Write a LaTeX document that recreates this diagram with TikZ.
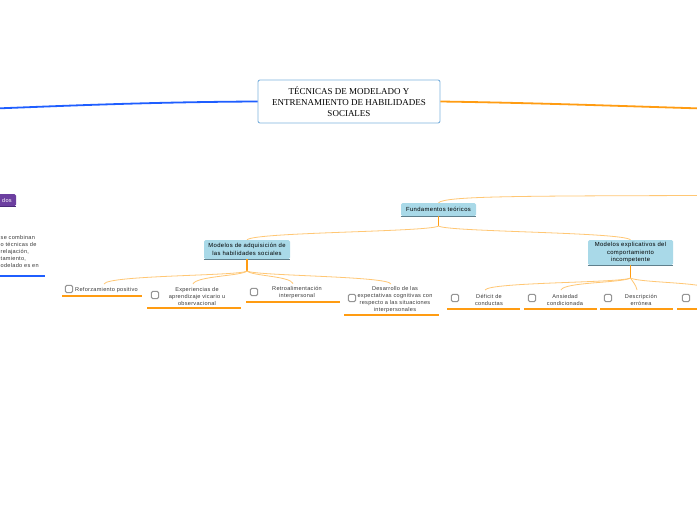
\documentclass[tikz,border=0pt]{standalone}
\usepackage{fontspec}
\setmainfont{Liberation Serif}
\newfontfamily\leafsans[LetterSpace=5]{Liberation Sans}
\newfontfamily\topicsans[LetterSpace=6]{Liberation Sans}
\definecolor{titleblue}{HTML}{7FB3DE}
\definecolor{branchblue}{HTML}{1F5EFF}
\definecolor{branchorange}{HTML}{FF9C12}
\definecolor{lightorange}{HTML}{FFC774}
\definecolor{topicfill}{HTML}{A9D9E8}
\definecolor{topicline}{HTML}{5F7F8C}
\definecolor{leaftext}{HTML}{3A3A3A}
\definecolor{boxgray}{HTML}{959595}
\definecolor{purplebox}{HTML}{6C3FA0}
\definecolor{purpleline}{HTML}{4B2A7A}
\begin{document}
\begin{tikzpicture}[x=1pt,y=-1pt,
  titlebox/.style={draw=titleblue,line width=0.9pt,rounded corners=2pt,fill=white,
    minimum width=182pt,minimum height=43pt,inner sep=0pt,align=center,
    font=\fontsize{9}{11}\selectfont},
  topic/.style={fill=topicfill,rounded corners=1.5pt,inner sep=0pt,align=center,
    text=black,font=\topicsans\fontsize{5.9}{7.3}\selectfont},
  topicbase/.style={draw=topicline,line width=0.9pt},
  leaf/.style={inner sep=0pt,align=center,text=leaftext,
    font=\leafsans\fontsize{5.6}{7}\selectfont},
  chk/.style={draw=boxgray,line width=1pt,rounded corners=1.3pt,fill=white,
    minimum size=7.2pt,inner sep=0pt},
  uline/.style={draw=branchorange,line width=1.6pt},
  conn/.style={draw=lightorange,line width=0.8pt},
  stub/.style={draw=branchorange,line width=1.2pt},
]
\clip (0,0) rectangle (697,520);
\fill[white] (0,0) rectangle (697,520);

% off-page ends
\coordinate (leftend) at (-5,108.5);
\coordinate (rightend) at (702,108.5);
\coordinate (fundend) at (702,195.5);

% central node
\node[titlebox] (title) at (349,101.5) {TÉCNICAS DE MODELADO Y\\ENTRENAMIENTO DE HABILIDADES\\SOCIALES};

% main branches
\draw[draw=branchblue,line width=1.8pt] (title.west) .. controls (150,102) and (60,106) .. (leftend);
\draw[draw=branchorange,line width=1.8pt] (title.east) .. controls (540,103) and (620,106) .. (rightend);

% left partial elements
\node[fill=purplebox,inner sep=0pt,minimum width=22pt,minimum height=12pt,rounded corners=1.5pt] (pbox) at (5,200) {};
\draw[draw=purpleline,line width=1pt] (pbox.south west) -- (pbox.south east);
\node[text=white,font=\leafsans\fontsize{5.6}{7}\selectfont,inner sep=0pt] (ptext) at (7,200.5) {dos};
\node[leaf,anchor=north west,align=left] (ltext) at (0.5,234.8) {se combinan\\o técnicas de\\relajación,\\tamiento,\\odelado es en};
\draw[draw=branchblue,line width=1.5pt] (-5,276) -- (45,276);

% Fundamentos
\node[topic,minimum width=75pt,minimum height=13pt] (fund) at (438.5,209.5) {Fundamentos teóricos};
\draw[topicbase] (fund.south west) -- (fund.south east);
\draw[conn] (fund.north) .. controls (445,196) and (520,196) .. (fundend);

\node[topic,minimum width=86pt,minimum height=19pt] (m1) at (247,249.5) {Modelos de adquisición de\\las habilidades sociales};
\draw[topicbase] (m1.south west) -- (m1.south east);
\node[topic,minimum width=85pt,minimum height=25pt] (m2) at (630.5,252.5) {Modelos explicativos del\\comportamiento\\incompetente};
\draw[topicbase] (m2.south west) -- (m2.south east);

\coordinate (fsplit) at (438.5,226);
\draw[stub] (fund.south) -- (fsplit);
\draw[conn] (fsplit) .. controls (430,232) and (255,232) .. (m1.north);
\draw[conn] (fsplit) .. controls (448,232) and (622,232) .. (m2.north);

% leaves of m1
\node[leaf] (t1) at (106.5,290) {Reforzamiento positivo};
\node[chk] (b1) at (69,289) {};
\draw[uline] (62,296) -- (142,296);
\node[leaf] (t2) at (197,296) {Experiencias de\\aprendizaje vicario u\\observacional};
\node[chk] (b2) at (155,295) {};
\draw[uline] (147,308) -- (241,308);
\node[leaf] (t3) at (297,292.5) {Retroalimentación\\interpersonal};
\node[chk] (b3) at (254,292) {};
\draw[uline] (246,302) -- (340,302);
\node[leaf] (t4) at (395,299.5) {Desarrollo de las\\expectativas cognitivas con\\respecto a las situaciones\\interpersonales};
\node[chk] (b4) at (352,298) {};
\draw[uline] (344,315) -- (439,315);

\coordinate (s1) at (247,271);
\coordinate (e1) at (104,284);
\coordinate (e2) at (193,284);
\coordinate (e3) at (293,283.5);
\coordinate (e4) at (391,284);
\draw[stub] (m1.south) -- (s1);
\draw[conn] (s1) .. controls (240,276) and (108,275) .. (e1);
\draw[conn] (s1) .. controls (242,276) and (196,276) .. (e2);
\draw[conn] (s1) .. controls (252,276) and (290,276) .. (e3);
\draw[conn] (s1) .. controls (256,276) and (388,276) .. (e4);

% leaves of m2
\node[leaf] (t5) at (489,299.5) {Déficit de\\conductas};
\node[chk] (b5) at (455,298) {};
\draw[uline] (447,309) -- (520,309);
\node[leaf] (t6) at (565,299.5) {Ansiedad\\condicionada};
\node[chk] (b6) at (532,298) {};
\draw[uline] (524,309) -- (597,309);
\node[leaf] (t7) at (641,299.5) {Descripción\\errónea};
\node[chk] (b7) at (608,298) {};
\draw[uline] (600,309) -- (673,309);
\node[chk] (b8) at (686,298) {};
\draw[uline] (677,309) -- (700,309);

\coordinate (s2) at (630.5,278);
\coordinate (e5) at (485,290);
\coordinate (e6) at (561,290);
\coordinate (e7) at (637,290);
\coordinate (e8) at (712,290);
\draw[stub] (m2.south) -- (s2);
\draw[conn] (s2) .. controls (620,283) and (490,282) .. (e5);
\draw[conn] (s2) .. controls (622,283) and (564,282) .. (e6);
\draw[conn] (s2) .. controls (633,282) and (636,285) .. (e7);
\draw[conn] (s2) .. controls (640,283) and (708,282) .. (e8);
\end{tikzpicture}
\end{document}
